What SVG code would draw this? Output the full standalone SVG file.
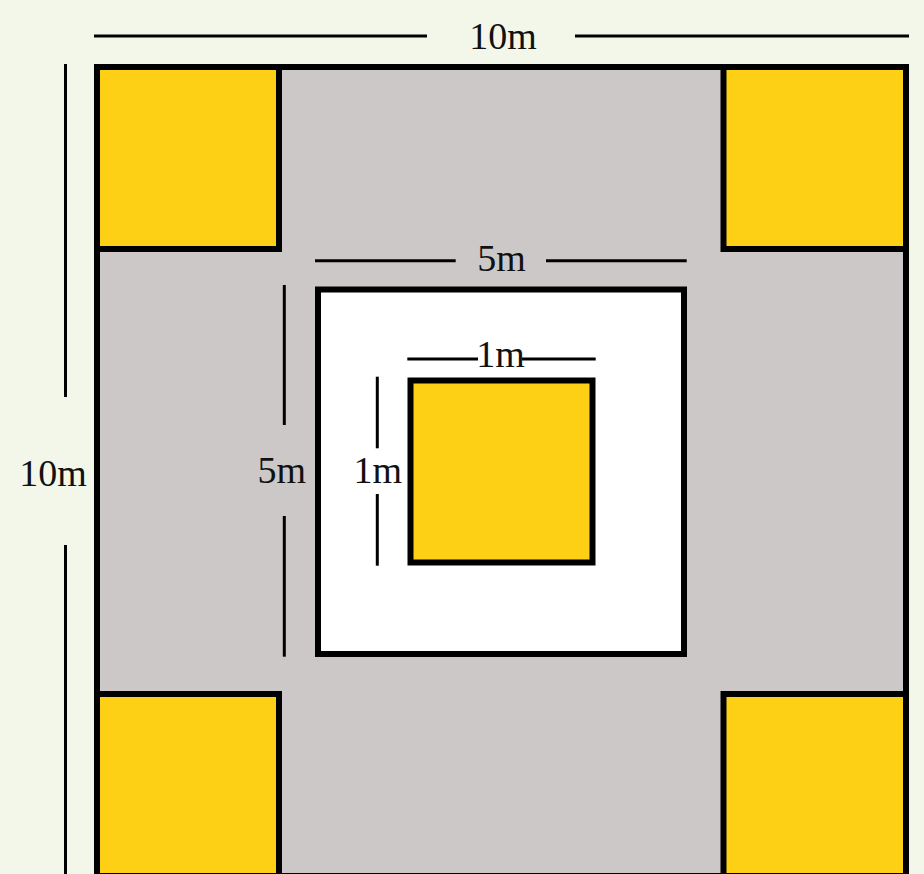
<svg xmlns="http://www.w3.org/2000/svg" width="924" height="874" viewBox="0 0 924 874">
<style>
.bg{fill:#f3f7e9}
.plot{fill:#cdc8c8;stroke:#000;stroke-width:6}
.yel{fill:#fdd015;stroke:#000;stroke-width:6}
.wht{fill:#ffffff;stroke:#000;stroke-width:6}
.dim{stroke:#000;stroke-width:3;fill:none}
.lbl{font-family:'Liberation Serif',serif;font-size:38px;fill:#111;text-anchor:middle}
</style>
<rect class="bg" x="0" y="0" width="924" height="874"/>
<g id="plot"><rect class="plot" x="97" y="67" width="809" height="809"/></g>
<g id="corner-tl"><rect class="yel" x="97" y="67" width="182" height="182"/></g>
<g id="corner-tr"><rect class="yel" x="723.5" y="67" width="182.5" height="182"/></g>
<g id="corner-bl"><rect class="yel" x="97" y="694" width="182" height="182"/></g>
<g id="corner-br"><rect class="yel" x="723.5" y="694" width="182.5" height="182"/></g>
<g id="white-square"><rect class="wht" x="318" y="289.5" width="366" height="364.5"/></g>
<g id="inner-square"><rect class="yel" x="410.5" y="380.5" width="182" height="182"/></g>
<g id="dimensions">
<line class="dim" x1="94" y1="36" x2="427" y2="36"/>
<line class="dim" x1="575" y1="36" x2="909" y2="36"/>
<line class="dim" x1="65.5" y1="64" x2="65.5" y2="397"/>
<line class="dim" x1="65.5" y1="545" x2="65.5" y2="874"/>
<line class="dim" x1="315" y1="260.7" x2="455.7" y2="260.7"/>
<line class="dim" x1="546" y1="260.7" x2="686.7" y2="260.7"/>
<line class="dim" x1="284.3" y1="285" x2="284.3" y2="425"/>
<line class="dim" x1="284.3" y1="516" x2="284.3" y2="656.7"/>
<line class="dim" x1="407.3" y1="359" x2="478" y2="359"/>
<line class="dim" x1="522" y1="359" x2="595.7" y2="359"/>
<line class="dim" x1="377.3" y1="376.7" x2="377.3" y2="448.3"/>
<line class="dim" x1="377.3" y1="494" x2="377.3" y2="565.7"/>
</g>
<g id="labels">
<text class="lbl" x="503" y="49">10m</text>
<text class="lbl" x="53" y="486">10m</text>
<text class="lbl" x="501.5" y="271">5m</text>
<text class="lbl" x="281.7" y="483">5m</text>
<text class="lbl" x="500.5" y="367">1m</text>
<text class="lbl" x="377.7" y="483">1m</text>
</g>
</svg>
